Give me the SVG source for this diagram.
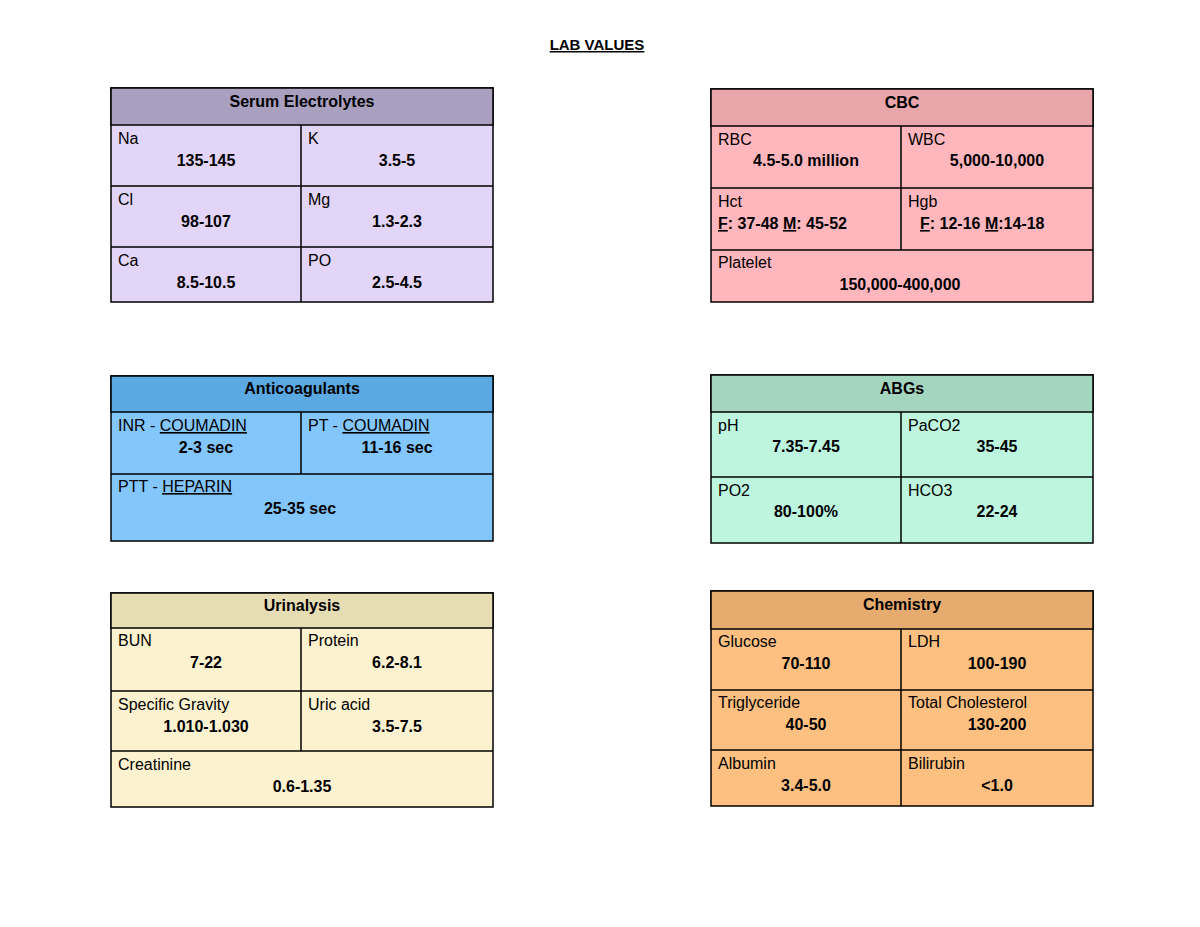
<svg xmlns="http://www.w3.org/2000/svg" width="1200" height="927" viewBox="0 0 1200 927">
<style>
text{font-family:"Liberation Sans",Arial,sans-serif;font-size:16px;fill:#000}
.h{font-weight:bold;text-anchor:middle}
.v{font-weight:bold;text-anchor:middle}
.u{text-decoration:underline}
rect,line{stroke:#000;stroke-width:1.5}
</style>
<rect x="0" y="0" width="1200" height="927" fill="#fff" style="stroke:none"/>
<text x="597" y="50" class="h u" style="font-size:15px">LAB VALUES</text>

<g id="serum">
<rect x="111" y="88" width="382" height="214" fill="#e2d5f8"/>
<rect x="111" y="88" width="382" height="37" fill="#a99fbf"/>
<line x1="111" y1="186" x2="493" y2="186"/><line x1="111" y1="247" x2="493" y2="247"/><line x1="301" y1="125" x2="301" y2="302"/>
<text x="302" y="107" class="h">Serum Electrolytes</text>
<text x="118" y="144">Na</text><text x="206" y="166" class="v">135-145</text>
<text x="308" y="144">K</text><text x="397" y="166" class="v">3.5-5</text>
<text x="118" y="205">Cl</text><text x="206" y="227" class="v">98-107</text>
<text x="308" y="205">Mg</text><text x="397" y="227" class="v">1.3-2.3</text>
<text x="118" y="266">Ca</text><text x="206" y="288" class="v">8.5-10.5</text>
<text x="308" y="266">PO</text><text x="397" y="288" class="v">2.5-4.5</text>
</g>

<g id="cbc">
<rect x="711" y="89" width="382" height="213" fill="#ffb7bd"/>
<rect x="711" y="89" width="382" height="37" fill="#e8a6aa"/>
<line x1="711" y1="188" x2="1093" y2="188"/><line x1="711" y1="250" x2="1093" y2="250"/><line x1="901" y1="126" x2="901" y2="250"/>
<text x="902" y="108" class="h">CBC</text>
<text x="718" y="145">RBC</text><text x="806" y="166" class="v">4.5-5.0 million</text>
<text x="908" y="145">WBC</text><text x="997" y="166" class="v">5,000-10,000</text>
<text x="718" y="207">Hct</text><text x="718" y="229" style="font-weight:bold"><tspan class="u">F</tspan>: 37-48   <tspan class="u">M</tspan>: 45-52</text>
<text x="908" y="207">Hgb</text><text x="920" y="229" style="font-weight:bold"><tspan class="u">F</tspan>: 12-16  <tspan class="u">M</tspan>:14-18</text>
<text x="718" y="268">Platelet</text><text x="900" y="290" class="v">150,000-400,000</text>
</g>

<g id="anticoag">
<rect x="111" y="376" width="382" height="165" fill="#83c6fc"/>
<rect x="111" y="376" width="382" height="36" fill="#5ba9e2"/>
<line x1="111" y1="474" x2="493" y2="474"/><line x1="301" y1="412" x2="301" y2="474"/>
<text x="302" y="394" class="h">Anticoagulants</text>
<text x="118" y="431">INR - <tspan class="u">COUMADIN</tspan></text><text x="206" y="453" class="v">2-3 sec</text>
<text x="308" y="431">PT - <tspan class="u">COUMADIN</tspan></text><text x="397" y="453" class="v">11-16 sec</text>
<text x="118" y="492">PTT - <tspan class="u">HEPARIN</tspan></text><text x="300" y="514" class="v">25-35 sec</text>
</g>

<g id="abgs">
<rect x="711" y="375" width="382" height="168" fill="#bdf5df"/>
<rect x="711" y="375" width="382" height="37" fill="#a4d6bf"/>
<line x1="711" y1="477" x2="1093" y2="477"/><line x1="901" y1="412" x2="901" y2="543"/>
<text x="902" y="394" class="h">ABGs</text>
<text x="718" y="431">pH</text><text x="806" y="452" class="v">7.35-7.45</text>
<text x="908" y="431">PaCO2</text><text x="997" y="452" class="v">35-45</text>
<text x="718" y="496">PO2</text><text x="806" y="517" class="v">80-100%</text>
<text x="908" y="496">HCO3</text><text x="997" y="517" class="v">22-24</text>
</g>

<g id="urinalysis">
<rect x="111" y="593" width="382" height="214" fill="#fdf2cf"/>
<rect x="111" y="593" width="382" height="35" fill="#e7ddb5"/>
<line x1="111" y1="691" x2="493" y2="691"/><line x1="111" y1="751" x2="493" y2="751"/><line x1="301" y1="628" x2="301" y2="751"/>
<text x="302" y="611" class="h">Urinalysis</text>
<text x="118" y="646">BUN</text><text x="206" y="668" class="v">7-22</text>
<text x="308" y="646">Protein</text><text x="397" y="668" class="v">6.2-8.1</text>
<text x="118" y="710">Specific Gravity</text><text x="206" y="732" class="v">1.010-1.030</text>
<text x="308" y="710">Uric acid</text><text x="397" y="732" class="v">3.5-7.5</text>
<text x="118" y="770">Creatinine</text><text x="302" y="792" class="v">0.6-1.35</text>
</g>

<g id="chemistry">
<rect x="711" y="591" width="382" height="215" fill="#fdc080"/>
<rect x="711" y="591" width="382" height="38" fill="#e6ab6e"/>
<line x1="711" y1="690" x2="1093" y2="690"/><line x1="711" y1="750" x2="1093" y2="750"/><line x1="901" y1="629" x2="901" y2="806"/>
<text x="902" y="610" class="h">Chemistry</text>
<text x="718" y="647">Glucose</text><text x="806" y="669" class="v">70-110</text>
<text x="908" y="647">LDH</text><text x="997" y="669" class="v">100-190</text>
<text x="718" y="708">Triglyceride</text><text x="806" y="730" class="v">40-50</text>
<text x="908" y="708">Total Cholesterol</text><text x="997" y="730" class="v">130-200</text>
<text x="718" y="769">Albumin</text><text x="806" y="791" class="v">3.4-5.0</text>
<text x="908" y="769">Bilirubin</text><text x="997" y="791" class="v">&lt;1.0</text>
</g>
<g id="connectors"/>
</svg>
